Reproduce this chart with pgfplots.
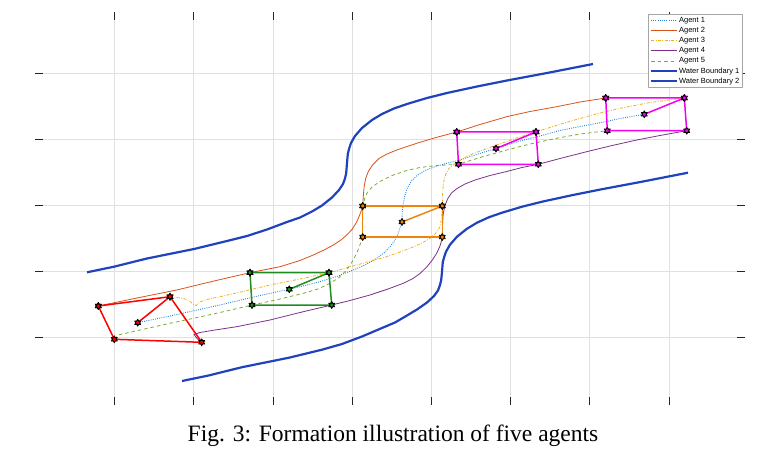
\documentclass[border=0pt]{standalone}
\usepackage{fontspec}
\setmainfont{Liberation Serif}
\newfontfamily\sansf{Liberation Sans}
\usepackage{pgfplots}
\pgfplotsset{compat=1.18}
\definecolor{ag1}{rgb}{0.15,0.52,0.85}
\definecolor{ag2}{rgb}{0.85,0.325,0.098}
\definecolor{ag3}{rgb}{0.929,0.694,0.125}
\definecolor{ag4}{rgb}{0.494,0.184,0.556}
\definecolor{ag5}{rgb}{0.466,0.674,0.188}
\definecolor{wb}{rgb}{0.13,0.26,0.74}
\definecolor{fred}{rgb}{1,0,0}
\definecolor{fgreen}{rgb}{0.13,0.55,0.13}
\definecolor{forange}{rgb}{0.92,0.52,0.05}
\definecolor{fmag}{rgb}{0.95,0,0.95}
\pgfdeclareplotmark{hexagram}{%
  \pgfpathmoveto{\pgfqpointpolar{90}{\pgfplotmarksize}}%
  \pgfpathlineto{\pgfqpointpolar{210}{\pgfplotmarksize}}%
  \pgfpathlineto{\pgfqpointpolar{330}{\pgfplotmarksize}}%
  \pgfpathclose
  \pgfpathmoveto{\pgfqpointpolar{270}{\pgfplotmarksize}}%
  \pgfpathlineto{\pgfqpointpolar{30}{\pgfplotmarksize}}%
  \pgfpathlineto{\pgfqpointpolar{150}{\pgfplotmarksize}}%
  \pgfpathclose
  \pgfusepathqfillstroke}
\pgfplotsset{form/.style={line width=1.5pt, mark=hexagram, mark size=3.6pt,
  mark options={solid, draw=black, fill=#1, line width=0.6pt}, color=#1, forget plot}}
\begin{document}
\begin{tikzpicture}[x=1pt,y=1pt]
\useasboundingbox (0,0) rectangle (767,454);
\begin{axis}[at={(35pt,49pt)}, anchor=south west, scale only axis,
  width=710pt, height=393pt,
  xmin=35, xmax=745, ymin=12, ymax=405, y dir=reverse,
  axis line style={draw=none},
  xtick={114.5,193.7,272.9,352.1,431.3,510.5,589.7,668.9},
  ytick={73.3,139.3,205.3,271.3,337.3},
  xticklabels={}, yticklabels={},
  grid=major, grid style={black!12, line width=0.5pt},
  tick style={black!85, line width=0.6pt}, major tick length=8pt,
  legend cell align=left,
  legend style={at={(axis cs:742,14)}, anchor=north east, draw=black!35, fill=white,
    font=\sansf\fontsize{7.5}{8}\selectfont, inner sep=1.5pt, row sep=1.2pt,
    nodes={inner sep=1pt, text height=5.5pt, text depth=1.5pt}},
  legend image code/.code={\draw[#1] (0pt,0pt) -- (26pt,0pt);},
  line join=round]
% Agent 1
\addplot[ag1, line width=0.9pt, dash pattern=on 0.9pt off 1.3pt] coordinates {
(137.7,322.7) (170,316) (195,310.5) (220,305) (245,299) (270,293.3) (289.3,289.3)
(320,281.7) (338,276) (353.3,270) (366,264.5) (376.7,258.3) (384,253) (390,246.7)
(395,240) (398,234) (400,228) (402,222) (402.3,212) (403.3,203.3) (405,195) (407.5,187.5)
(411.5,181) (417,175.5) (425,170.5) (436.7,166) (448,163) (460,160) (478,154) (496,148.5)
(518,141.5) (540,136) (560,130.5) (580,126.5) (606.7,121.5) (620,118.5) (644.3,114.3)};
\addlegendentry{Agent 1}
% Agent 2
\addplot[ag2, line width=0.8pt] coordinates {
(98.3,306) (137,298) (176.7,290) (214,281) (250,272.7) (280,266.7) (300,260.5) (313.3,255)
(325,249.5) (333.3,245) (341,240) (346.7,235) (352,229.5) (356.7,222) (359.5,215.5)
(361.5,210) (362.7,205.7) (363.3,196) (364.2,186) (365.8,178) (368.5,171) (373,164.5)
(379,158.5) (387,154) (396.7,150) (416.7,143.3) (436,137.5) (456.7,132) (480,124.5)
(506.7,116.7) (530,111.5) (556.7,106.7) (580,102) (605.7,98)};
\addlegendentry{Agent 2}
% Agent 3
\addplot[ag3, line width=0.8pt, dash pattern=on 3pt off 1.5pt on 0.8pt off 1.5pt] coordinates {
(170,296.7) (183,298.3) (189,300.5) (193.5,304.5) (196.5,305.5) (199.5,302) (208,299.2)
(220,296.7) (245,291) (270,285) (300,279) (329.3,272.7) (356.7,265) (386.7,256.7)
(410,248.3) (422,243) (430,238.3) (436,233) (440,226.7) (441.7,218) (442.3,205.7)
(442.6,192) (443.5,183) (445.5,175) (449,168.5) (455,163.5) (464,158) (473.3,153.5)
(496.7,145) (515,138.5) (536,132) (553,126.5) (571,121) (596,114) (620,108.3)
(650,102.5) (684.3,98)};
\addlegendentry{Agent 3}
% Agent 4
\addplot[ag4, line width=0.8pt] coordinates {
(201.7,342.3) (197,338.5) (194,334.5) (200,332.5) (215,330) (236.7,326.7) (270,320)
(303.3,311.7) (331.7,305) (350,300.5) (370,295) (388,289) (403.3,283.3) (413,278.5)
(420,273.5) (426.7,267) (432,260.5) (436.7,253.3) (440,246) (441.7,240) (442.3,237.3)
(442.5,225) (443.2,214) (444.8,206) (447.5,199) (451.5,193) (457,188.5) (465,184)
(475,180) (490,175.5) (506.7,171.5) (522,167.5) (538.3,164.3) (560,158.5) (586.7,151.7)
(610,146) (636.7,140) (660,135.5) (686.7,130.7)};
\addlegendentry{Agent 4}
% Agent 5
\addplot[ag5, line width=0.8pt, dash pattern=on 3.5pt off 3pt] coordinates {
(114.3,339.3) (118,335) (140,330) (170,323.3) (195,318) (220,312.5) (252.3,305)
(280,299) (303.3,293.3) (318,289) (330,283.3) (339,277.5) (346.7,270) (352,262)
(356.7,253.3) (360,245) (362,238) (362.6,230) (362.7,215) (363,205.7) (364.5,199)
(367,193) (372,187) (380,181.5) (392,175.5) (406.7,170.5) (420,167.5) (436.7,165.5)
(458.5,164.3) (480,157.5) (506.7,150) (530,144) (556.7,138.3) (580,134) (607.3,130.7)};
\addlegendentry{Agent 5}
% Water boundary 1
\addplot[wb, line width=2.2pt] coordinates {
(87,272.3) (114,266.7) (147,258.5) (194,249) (227,241) (247,236) (267,229.5) (287,222)
(300,217.5) (312,211.5) (322,205.5) (332,197.5) (339,190) (343,184) (345,178.5)
(346.2,173) (347,163) (347.8,154) (349,149) (351,143) (355,136) (362,128) (372,120)
(382,114) (394,108.5) (407,104) (427,98) (447,93) (477,86.5) (507,80.5) (547,73) (593,64)};
\addlegendentry{Water Boundary 1}
% Water boundary 2
\addplot[wb, line width=2.2pt] coordinates {
(182,381) (209,375.4) (242,367.2) (289,357.7) (322,349.7) (342,344) (362,336.5) (382,328)
(395,322.5) (407,315.5) (417,309.5) (427,302.5) (434,296) (438,290.5) (440,285)
(441.2,280) (442,271.7) (442.8,262) (444,257.7) (446,251.7) (450,244.7) (457,236.7)
(467,228.7) (477,222.7) (489,217.2) (502,212.7) (522,206.7) (542,201.7) (572,195.2)
(602,189.2) (642,181.7) (688,172.7)};
\addlegendentry{Water Boundary 2}
% Formation 1
\addplot[form=fred] coordinates {(98.3,306) (170,296.7) (201.7,342.3) (114.3,339.3) (98.3,306)};
\addplot[form=fred] coordinates {(170,296.7) (137.7,322.7)};
% Formation 2
\addplot[form=fgreen] coordinates {(250,272.7) (329,272.7) (331.7,305) (252,305) (250,272.7)};
\addplot[form=fgreen] coordinates {(329,272.7) (289.3,289.3)};
% Formation 3
\addplot[form=forange] coordinates {(362.7,206) (442.3,206) (442.3,237) (362.7,237) (362.7,206)};
\addplot[form=forange] coordinates {(442.3,206) (402,222)};
% Formation 4
\addplot[form=fmag] coordinates {(456.7,132) (536,132) (538.3,164.3) (458.5,164.3) (456.7,132)};
\addplot[form=fmag] coordinates {(536,132) (496,148.5)};
% Formation 5
\addplot[form=fmag] coordinates {(605.7,98) (684.3,98) (686.7,130.7) (607.3,130.7) (605.7,98)};
\addplot[form=fmag] coordinates {(684.3,98) (644.3,114.3)};
\end{axis}
\node[anchor=base, font=\fontsize{23.5}{28}\selectfont] at (393,12) {Fig. 3: Formation illustration of five agents};
\end{tikzpicture}
\end{document}
